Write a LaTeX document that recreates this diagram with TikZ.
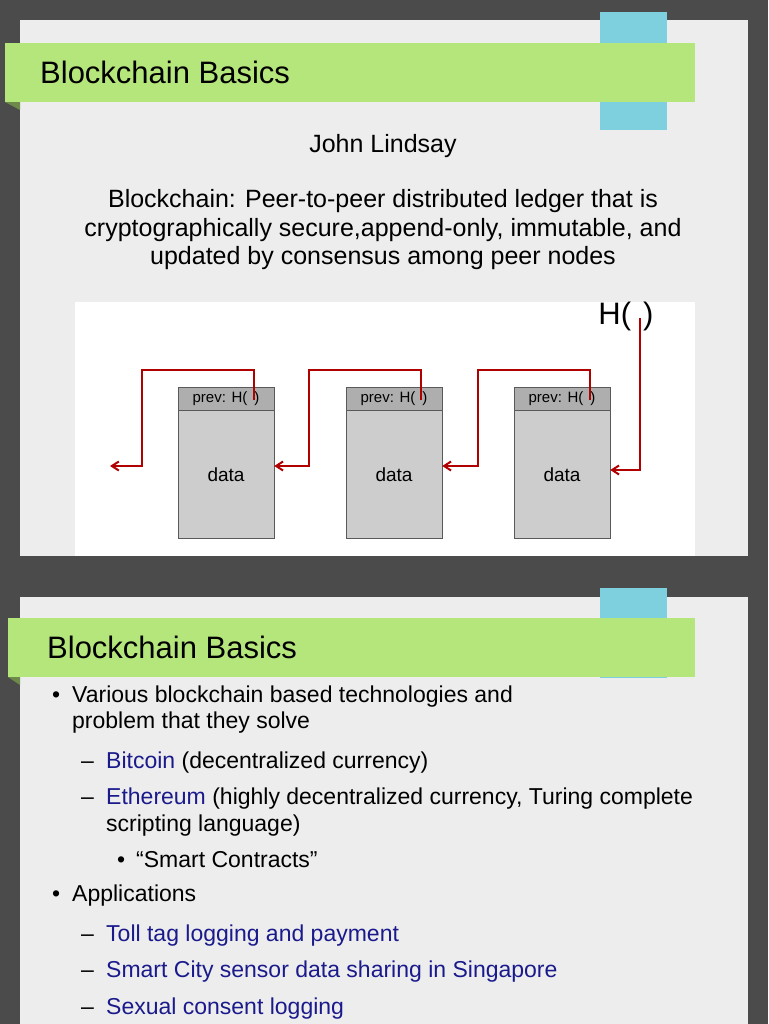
\documentclass[tikz,border=0pt]{standalone}
\usepackage{fontspec}
\setmainfont{Liberation Sans}
\usetikzlibrary{arrows.meta}
\definecolor{bgc}{HTML}{4B4B4B}
\definecolor{paper}{HTML}{EDEDED}
\definecolor{grn}{HTML}{B5E67B}
\definecolor{tab}{HTML}{7FD0DE}
\definecolor{blk}{HTML}{CDCDCD}
\definecolor{arr}{HTML}{B00000}
\definecolor{lnk}{HTML}{1A1A8C}
\tikzset{
 ttl/.style={anchor=west,inner sep=0pt,font=\fontsize{31}{34}\selectfont},
 body/.style={font=\fontsize{23}{27}\selectfont,anchor=base west,inner sep=0pt},
 cbody/.style={font=\fontsize{25}{28.5}\selectfont,align=center},
 blockbox/.style={draw=gray!70!black,fill=blk,minimum width=96pt,minimum height=151pt,inner sep=0pt},
 hdr/.style={draw=gray!70!black,fill=blk!85!black,minimum width=96pt,minimum height=23pt,inner sep=0pt,font=\fontsize{15}{17}\selectfont},
 chain/.style={draw=arr,line width=2pt,-{Straight Barb[length=7pt,width=9pt]}},
}
\begin{document}
\begin{tikzpicture}[x=1pt,y=-1pt]
\useasboundingbox (0,0) rectangle (768,1024);
\fill[bgc] (0,0) rectangle (768,1024);
% slide 1
\fill[paper] (20,20) rectangle (748,556);
\fill[tab] (600,12) rectangle (667,130);
\fill[grn!60!black] (5,102) -- (20,102) -- (20,110) -- cycle;
\fill[grn] (5,43) rectangle (695,102);
\node[ttl] (t1) at (40,72) {Blockchain Basics};
\node[cbody] (auth) at (383,146) {John Lindsay};
\node[cbody] (def) at (383,230) {Blockchain: Peer-to-peer distributed ledger that is\\cryptographically secure,append-only, immutable, and\\updated by consensus among peer nodes};
\fill[white] (75,302) rectangle (695,556);
\foreach \i/\x in {1/226,2/394,3/562}{
 \node[blockbox] (b\i) at (\x,462.5) {};
 \node[hdr,anchor=north] (h\i) at (b\i.north) {prev: H(\hspace{7pt})};
 \node[font=\fontsize{19}{22}\selectfont] (d\i) at (\x,475) {data};
}
\node[font=\fontsize{31}{34}\selectfont] (H) at (626,316) {H(\hspace{12pt})};
\coordinate (e0) at (110,466);
\draw[chain] (254,400) -- (254,370) -- (142,370) -- (142,466) -- (e0);
\draw[chain] (421,400) -- (421,370) -- (309,370) -- (309,466) -- (b1.east|-0,466);
\draw[chain] (590,400) -- (590,370) -- (478,370) -- (478,466) -- (b2.east|-0,466);
\draw[chain] (640,318) -- (640,470) -- (b3.east|-0,470);
% slide 2
\fill[paper] (20,597) rectangle (748,1024);
\fill[tab] (600,588) rectangle (667,678);
\fill[grn!60!black] (8,677) -- (20,677) -- (20,685) -- cycle;
\fill[grn] (8,618) rectangle (695,677);
\node[ttl] (t2) at (47,647) {Blockchain Basics};
\node[body] (p1) at (72,702) {Various blockchain based technologies and};
\node[body] (p1b) at (72,728) {problem that they solve};
\node[body] (q1) at (106,768) {\textcolor{lnk}{Bitcoin} (decentralized currency)};
\node[body] (q2) at (106,804) {\textcolor{lnk}{Ethereum} (highly decentralized currency, Turing complete};
\node[body] (q2b) at (106,831) {scripting language)};
\node[body] (r1) at (136,867) {“Smart Contracts”};
\node[body] (p2) at (72,901) {Applications};
\node[body] (q3) at (106,941) {\textcolor{lnk}{Toll tag logging and payment}};
\node[body] (q4) at (106,977) {\textcolor{lnk}{Smart City sensor data sharing in Singapore}};
\node[body] (q5) at (106,1014) {\textcolor{lnk}{Sexual consent logging}};
\foreach \y in {702,901}{\node[body] at (52,\y) {•};}
\node[body] at (117,867) {•};
\foreach \y in {768,804,941,977,1014}{\node[body] at (81,\y) {–};}
\end{tikzpicture}
\end{document}
